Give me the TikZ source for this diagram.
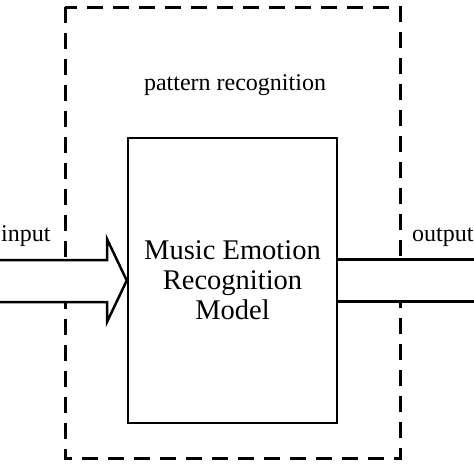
\documentclass[tikz,border=0pt]{standalone}
\usepackage{fontspec}
\setmainfont{Liberation Serif}
\usetikzlibrary{positioning}
\tikzset{frame/.style = {draw, line width=3pt, dash pattern=on 16pt off 10pt}}
\tikzset{mbox/.style = {draw, line width=2.5pt, minimum width=209pt, minimum height=285pt,
                        align=center, font=\fontsize{28.5}{30}\selectfont}}
\tikzset{blk/.style = {draw, fill=white, line width=2.5pt, line join=miter}}
\tikzset{lbl/.style = {font=\fontsize{24}{28}\selectfont, inner sep=0}}

\begin{document}
\begin{tikzpicture}[x=1pt, y=-1pt]
    \useasboundingbox (0,0) rectangle (474,474);
    \fill [white] (0,0) rectangle (474,474);

    \draw [frame] (65,7) rectangle (400,458);
    \node [lbl, anchor=base] (pattern) at (235,90) {pattern recognition};

    \node [mbox] (model) at (232.5,280.5) {Music Emotion\\Recognition\\Model};

    \draw [blk] (-3,260) -- (107,260) -- (107,239) -- (model.west)
                -- (107,322) -- (107,302) -- (-3,302);
    \path [fill=white] ([yshift=21pt]model.east) rectangle (477,302);
    \draw [line width=2.5pt] ([yshift=21pt]model.east) -- ++(140,0);
    \draw [line width=2.5pt] ([yshift=-21pt]model.east) -- ++(140,0);

    \node [lbl, anchor=base west] (input) at (1,241) {input};
    \node [lbl, anchor=base west] (output) at (412,241) {output};
\end{tikzpicture}
\end{document}
